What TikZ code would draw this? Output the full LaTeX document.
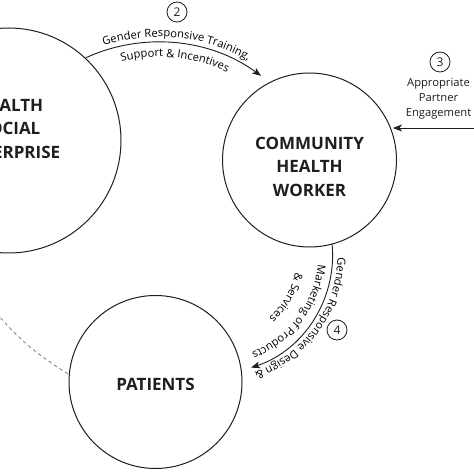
\documentclass[tikz,border=0pt]{standalone}
\usepackage{fontspec}
\setmainfont{Open Sans}
\usetikzlibrary{arrows.meta,decorations.text}
\definecolor{ink}{HTML}{1E1E1E}
\definecolor{dashgray}{HTML}{808080}
\newcommand\lblfont{\fontsize{11.2}{15}\selectfont}
\newcommand\bigfont{\fontsize{17}{23.5}\selectfont\bfseries}
\begin{document}
\begin{tikzpicture}[x=1pt,y=1pt,
  ring/.style={draw=ink, line width=1pt, circle, inner sep=0pt},
  numring/.style={draw=ink, line width=0.8pt, circle, minimum size=20pt, inner sep=0pt, font=\fontsize{12}{12}\selectfont, text=ink},
  bigtxt/.style={font=\bigfont, align=center, text=ink, inner sep=0pt},
  lbltxt/.style={font=\lblfont, align=center, text=ink, inner sep=0pt},
  flow/.style={draw=ink, line width=0.9pt, -{Stealth[length=9pt,width=7pt,inset=2.5pt]}},
  dashline/.style={draw=dashgray, line width=0.8pt, dash pattern=on 3.5pt off 3pt},
  alongtxt/.style={decorate, decoration={text along path, text align=center, text={|\lblfont|#1}}}
]
\useasboundingbox (0,0) rectangle (474,474);
\clip (0,0) rectangle (474,474);
\fill[white] (0,0) rectangle (474,474);

% circles
\node[ring, minimum size=225pt] (lc) at (8.5,333.5) {};
\node[bigtxt] (lct) at (10,345.5) {HEALTH\\SOCIAL\\ENTERPRISE};
\node[ring, minimum size=174pt] (chw) at (309.5,314) {};
\node[bigtxt] (chwt) at (309.5,307.25) {COMMUNITY\\HEALTH\\WORKER};
\node[ring, minimum size=173pt] (pat) at (155.5,92) {};
\node[bigtxt] (patt) at (155.5,90) {PATIENTS};

% arrow 2 (arc centred at c2)
\coordinate (c2) at (159.2,259.1);
\draw[flow] (lc.47) arc[start angle=114.6, end angle=53.7, radius=174];
\path[alongtxt={Gender Responsive Training,}] ([shift={(114.6:178)}]c2) arc[start angle=114.6, end angle=53.7, radius=178];
\path[alongtxt={Support {\&} Incentives}] ([shift={(114.6:158)}]c2) arc[start angle=114.6, end angle=53.7, radius=158];
\node[numring] (n2) at (177,462) {2};

% arrow 3
\coordinate (a3start) at (480,346);
\coordinate (a3end) at (393,346);
\draw[flow] (a3start) -- (a3end);
\node[lbltxt] (a3lbl) at (438.5,375.7) {Appropriate\\Partner\\Engagement};
\node[numring] (n3) at (440,412) {3};

% arrow 4 (arc centred at c4)
\coordinate (c4) at (215,218);
\draw[flow] (chw.285) arc[start angle=5.1, end angle=-71.8, radius=118.5];
\path[alongtxt={Gender Responsive Design {\&}}] ([shift={(2:122.5)}]c4) arc[start angle=2, end angle=-74, radius=122.5];
\path[alongtxt={Marketing of Products}] ([shift={(0:103)}]c4) arc[start angle=0, end angle=-74, radius=103];
\path[alongtxt={{\&} Services}] ([shift={(-10.2:82)}]c4) arc[start angle=-10.2, end angle=-50.2, radius=82];
\node[numring] (n4) at (337,144) {4};

% dashed link
\coordinate (dstart) at (-8,166);
\draw[dashline] (dstart) to[bend right=9] (pat.175);
\end{tikzpicture}
\end{document}
